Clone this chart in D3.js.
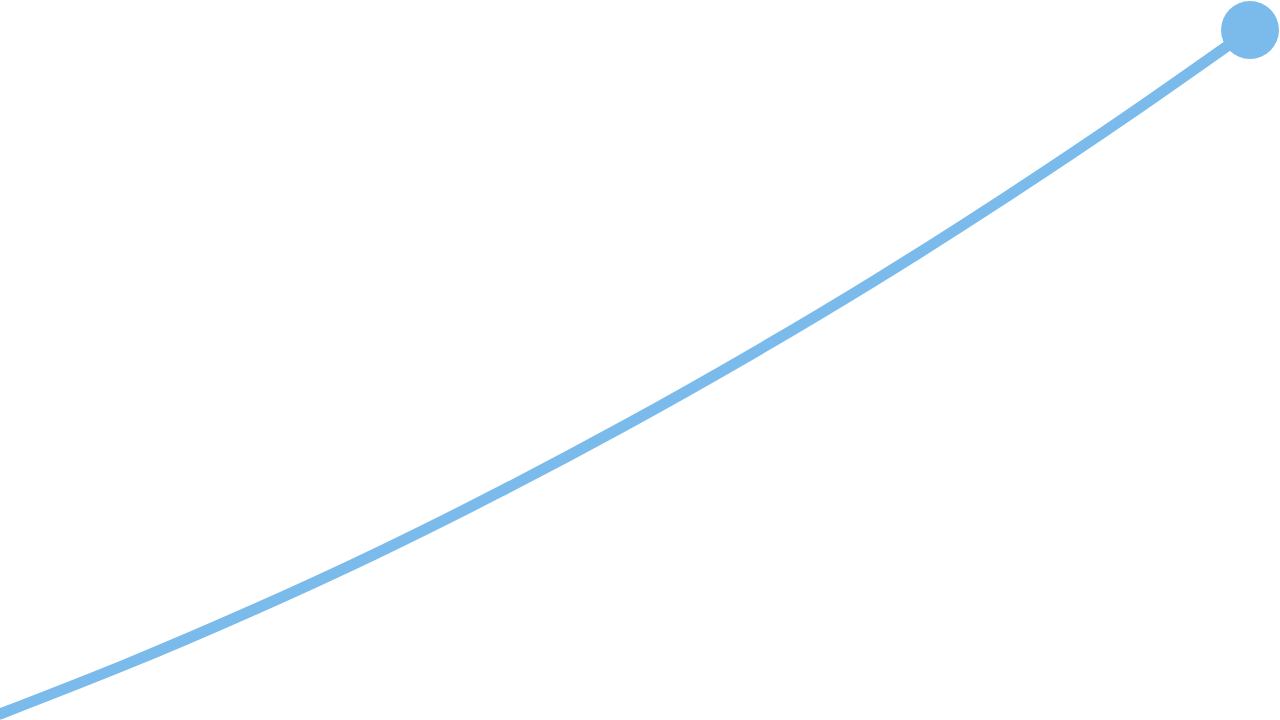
<!DOCTYPE html>
<html>
<head>
<meta charset="utf-8">
<script src="https://cdn.jsdelivr.net/npm/d3@7"></script>
<style>
  html, body { margin: 0; padding: 0; background: #fff; overflow: hidden; }
  svg { display: block; }
</style>
</head>
<body>
<div id="chart"></div>
<script>
// growth curve
var steps = [0, 1, 2, 3, 4, 5, 6, 7, 8, 9, 10];
var values = [0, 7.2, 15.0, 23.4, 32.5, 42.2, 52.5, 63.4, 75.0, 87.2, 100];

var width = 1280, height = 720;
var lineColor = "#7bbbeb";

var svg = d3.select("#chart").append("svg")
  .attr("width", width)
  .attr("height", height);

var x = d3.scaleLinear().domain([0, 10]).range([0, 1250]);
var y = d3.scaleLinear().domain([0, 100]).range([714, 30]);

var data = steps.map(function(s, i) { return [s, values[i]]; });

var line = d3.line()
  .x(function(d) { return x(d[0]); })
  .y(function(d) { return y(d[1]); })
  .curve(d3.curveNatural);

svg.append("path")
  .datum(data)
  .attr("d", line)
  .attr("fill", "none")
  .attr("stroke", lineColor)
  .attr("stroke-width", 11)
  .attr("stroke-linecap", "round");

// end marker
var last = data[data.length - 1];
svg.append("circle")
  .attr("cx", x(last[0]))
  .attr("cy", y(last[1]))
  .attr("r", 29)
  .attr("fill", lineColor);
</script>
</body>
</html>
